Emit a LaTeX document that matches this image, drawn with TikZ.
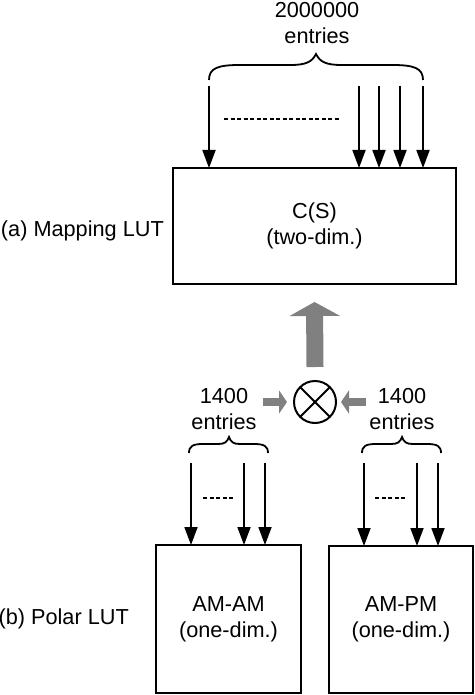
\documentclass[tikz,border=0pt]{standalone}
\usepackage{fontspec}
\setmainfont{Liberation Sans}
\usetikzlibrary{arrows.meta}
\begin{document}
\begin{tikzpicture}[x=1pt,y=-1pt,
  txt/.style={font=\fontsize{21.7}{26}\selectfont, align=center, inner sep=0pt},
  lut/.style={draw, line width=2pt, inner sep=0pt, outer sep=0pt, font=\fontsize{21.7}{26}\selectfont, align=center},
  feed/.style={line width=1.8pt, -{Triangle[width=13pt,length=18pt]}},
  dots/.style={line width=1.6pt, dash pattern=on 4pt off 2.5pt},
  brc/.style={line width=1.8pt},
  bigarr/.style={draw=gray, line width=17pt, -{Triangle[width=50pt,length=14pt]}},
  smallarr/.style={draw=gray, line width=8pt, -{Triangle[width=23pt,length=8pt]}}]
\useasboundingbox (0,0) rectangle (474,695);

% boxes
\node[lut, minimum width=283pt, minimum height=116pt] (map) at (314.5,226) {C(S)\\(two-dim.)};
\node[lut, minimum width=145pt, minimum height=148pt] (amam) at (228.5,619) {AM-AM\\(one-dim.)};
\node[lut, minimum width=144pt, minimum height=147pt] (ampm) at (401,619.5) {AM-PM\\(one-dim.)};

% side labels
\node[txt, anchor=east] (la) at (164,231) {(a) Mapping LUT};
\node[txt, anchor=east] (lb) at (129,619) {(b) Polar LUT};

% entry labels
\node[txt] (e2m) at (317,23) {2000000\\entries};
\node[txt] (e14a) at (224,409) {1400\\entries};
\node[txt] (e14b) at (402,409) {1400\\entries};

% multiplier
\node[draw, circle, line width=2pt, minimum size=42pt, inner sep=0pt, outer sep=0pt] (mult) at (315,402) {};
\draw[line width=1.8pt] (mult.north west) -- (mult.south east);
\draw[line width=1.8pt] (mult.north east) -- (mult.south west);

% gray arrows
\draw[bigarr] ([yshift=14pt]mult.north) -- ([yshift=-18pt]map.south);
\draw[smallarr] ([xshift=-31pt]mult.west) -- ([xshift=-7pt]mult.west);
\draw[smallarr] ([xshift=30pt]mult.east) -- ([xshift=5pt]mult.east);

% top feed arrows
\coordinate (t1) at (209,86);
\coordinate (t2) at (359,86);
\coordinate (t3) at (379,86);
\coordinate (t4) at (400,86);
\coordinate (t5) at (423,86);
\foreach \c in {t1,t2,t3,t4,t5} \draw[feed] (\c) -- (\c |- map.north);
\coordinate (td1) at (224,119);
\coordinate (td2) at (340,119);
\draw[dots] (td1) -- (td2);

% bottom feed arrows
\coordinate (l1) at (191,463);
\coordinate (l2) at (244,463);
\coordinate (l3) at (265,463);
\coordinate (r1) at (364,463);
\coordinate (r2) at (417,463);
\coordinate (r3) at (438,463);
\foreach \c in {l1,l2,l3} \draw[feed] (\c) -- (\c |- amam.north);
\foreach \c in {r1,r2,r3} \draw[feed] (\c) -- (\c |- ampm.north);
\coordinate (ld1) at (203,498);
\coordinate (ld2) at (234,498);
\coordinate (rd1) at (375,498);
\coordinate (rd2) at (407,498);
\draw[dots] (ld1) -- (ld2);
\draw[dots] (rd1) -- (rd2);

% braces
\draw[brc] (209,80) .. controls (209,68) and (218,65) .. (240,65) -- (290,65)
  .. controls (306,65) and (312,62) .. (316,54)
  .. controls (320,62) and (326,65) .. (342,65) -- (392,65)
  .. controls (414,65) and (423,68) .. (423,80);
\draw[brc] (189,453) .. controls (189,446) and (193,444) .. (203,444) -- (218,444)
  .. controls (225,444) and (227,442) .. (229,437)
  .. controls (231,442) and (233,444) .. (240,444) -- (254,444)
  .. controls (264,444) and (268,446) .. (268,453);
\draw[brc] (362,453) .. controls (362,446) and (366,444) .. (376,444) -- (391,444)
  .. controls (398,444) and (400,442) .. (402,437)
  .. controls (404,442) and (406,444) .. (413,444) -- (427,444)
  .. controls (437,444) and (441,446) .. (441,453);
\end{tikzpicture}
\end{document}
